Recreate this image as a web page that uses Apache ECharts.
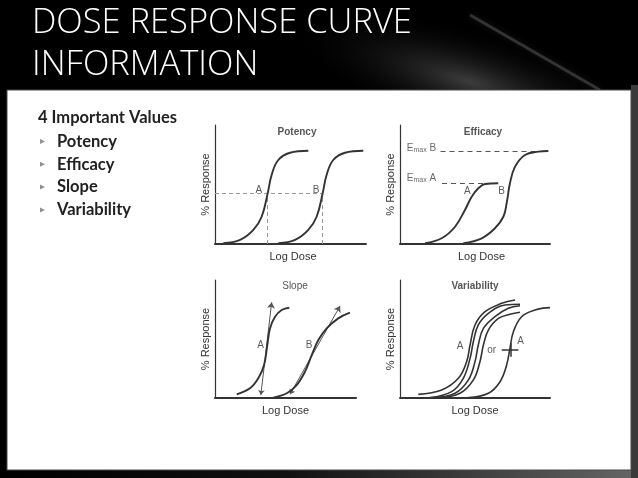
<!DOCTYPE html>
<html><head><meta charset="utf-8">
<script src="https://cdn.jsdelivr.net/npm/echarts@6/dist/echarts.min.js"></script>
<style>html,body{margin:0;padding:0;background:#000}#c{width:638px;height:478px}</style>
</head><body><div id="c"></div>
<script>
// ---- text ----
const slideTitle = 'DOSE RESPONSE CURVE\nINFORMATION';
const listHeading = '4 Important Values';
const listItems = ['Potency', 'Efficacy', 'Slope', 'Variability'];
const panelTitles = ['Potency', 'Efficacy', 'Slope', 'Variability'];
const yName = '% Response';
const xName = 'Log Dose';

// ---- Potency (x: log dose 0-10, y: % response 0-100) ----
const potencyA = [[0.55,0.6],[1.66,3.4],[2.54,11.8],[3.09,22.9],[3.49,42.6],[3.75,58],[4.19,70.6],[4.97,76.7],[6.18,78.4]];
const potencyB = [[4.19,0.6],[5.30,3.4],[6.18,11.8],[6.73,22.9],[7.13,42.6],[7.39,58],[7.83,70.6],[8.61,76.7],[9.82,78.4]];
const potencyGuides = [[[0,42.6],[7.13,42.6]], [[3.49,0],[3.49,42.6]], [[7.13,0],[7.13,42.6]]];
const potencyLabels = [['A',2.91,45.4],['B',6.69,45.4]];

// ---- Efficacy ----
const efficacyA = [[1.67,0.6],[2.78,4.8],[3.67,14.5],[4.33,28.6],[4.78,39.7],[5.22,46.8],[5.67,50.4],[6.55,51]];
const efficacyB = [[4.22,0.6],[5.45,4.8],[6.33,13.2],[6.89,22.9],[7.11,34.2],[7.33,51],[7.67,65],[8.33,74.8],[9.22,77.6],[9.89,78.2]];
const efficacyGuides = [[[2.7,78.2],[9.6,78.2]], [[2.8,51.3],[6.5,51.3]]];
const efficacyLabels = [['A',4.49,44],['B',6.78,44]];
const emaxLabels = [['B',0.45,80.7],['A',0.45,55.5]];

// ---- Slope ----
const slopeA = [[1.54,3.1],[2.48,8.2],[3.07,16.7],[3.48,28],[3.71,44.9],[3.9,59],[4.26,68.9],[4.73,74.6],[5.27,76.5]];
const slopeB = [[4.13,0.3],[5.09,4],[5.79,11],[6.38,22.3],[6.86,36.4],[7.33,49.2],[7.92,59],[8.74,67.5],[9.57,72.3]];
const slopeTangents = [[[3.25,2.5],[4.02,81.1]], [[5.32,3.1],[8.87,78]]];
const slopeLabels = [['A',3.24,44.9],['B',6.67,44.9]];

// ---- Variability ----
const var1 = [[1.22,3.1],[2.78,6.8],[3.89,16.7],[4.44,30.8],[4.67,44.9],[5.0,61.9],[5.67,73.2],[6.78,80.2],[7.67,83.1]];
const var2 = [[2.0,0.3],[3.44,5.4],[4.22,16.7],[4.67,33.6],[4.89,47.7],[5.22,61.9],[5.89,71.8],[7.0,78.8],[8.0,79.4]];
const var3 = [[2.22,0.3],[3.67,4],[4.56,15.3],[5.0,30.8],[5.22,44.9],[5.56,59],[6.33,68.9],[7.22,76],[8.0,78.2]];
const var4 = [[2.56,0.3],[4.0,4],[4.89,15.3],[5.33,30.8],[5.56,44.9],[5.89,57.6],[6.56,67.5],[7.33,70.9],[8.0,72.6]];
const var5 = [[4.56,0.3],[5.89,4],[6.67,13.8],[7.11,28],[7.33,42.1],[7.56,56.2],[8.11,68.9],[9.0,74.6],[10.0,76.6]];
const varMarks = [[[6.78,40.7],[7.89,40.7]], [[7.38,35],[7.38,46.3]]];
const varLabels = [['A',4.0,43.5],['or',6.11,40.7],['A',8.04,47.7]];

const grids = [
  {left:215, top:125, width:151, height:119},
  {left:400, top:125, width:150, height:119},
  {left:215, top:280, width:141, height:118},
  {left:400, top:280, width:150, height:118}
];
const titlePos = [[292,122],[478,122],[290,276],[470,276]];

const INK = '#333';
const FONT = '"Liberation Sans", Arial, sans-serif';

const xAxes = grids.map((g,i)=>({
  gridIndex:i, type:'value', min:0, max:10,
  axisLine:{show:true, lineStyle:{color:INK, width:2}},
  axisTick:{show:false}, axisLabel:{show:false}, splitLine:{show:false},
  name:xName, nameLocation:'middle', nameGap:7,
  nameTextStyle:{fontFamily:FONT, fontSize:11, color:'#333', padding:[0,0,0,i===1?13:(i===0?5:0)]}
}));
const yAxes = grids.map((g,i)=>({
  gridIndex:i, type:'value', min:0, max:100,
  axisLine:{show:true, lineStyle:{color:INK, width:1.2}},
  axisTick:{show:false}, axisLabel:{show:false}, splitLine:{show:false},
  name:yName, nameLocation:'middle', nameGap:4,
  nameTextStyle:{fontFamily:FONT, fontSize:11, color:'#333'}
}));

const series = [];
function curve(i, data, w){
  series.push({type:'line', xAxisIndex:i, yAxisIndex:i, data, smooth:0.4, symbol:'none',
    lineStyle:{color:INK, width:w||1.9}, silent:true, z:3});
}
function segs(i, list, opts){
  series.push(Object.assign({type:'lines', coordinateSystem:'cartesian2d', xAxisIndex:i, yAxisIndex:i,
    data:list.map(c=>({coords:c})), silent:true, z:3}, opts));
}
function labels(i, list){
  series.push({type:'scatter', xAxisIndex:i, yAxisIndex:i, symbolSize:0, silent:true, z:4,
    data:list.map(l=>({name:l[0], value:[l[1],l[2]]})),
    label:{show:true, position:'inside', formatter:'{b}', fontFamily:FONT, fontSize:10, color:'#333'}});
}

// Potency
segs(0, potencyGuides, {lineStyle:{color:'#999', width:1, type:[4,3], opacity:1}});
curve(0, potencyA); curve(0, potencyB); labels(0, potencyLabels);
// Efficacy
segs(1, efficacyGuides, {lineStyle:{color:'#555', width:1, type:[5,4], opacity:1}});
curve(1, efficacyA); curve(1, efficacyB); labels(1, efficacyLabels);
series.push({type:'scatter', xAxisIndex:1, yAxisIndex:1, symbolSize:0, silent:true, z:4,
  data:emaxLabels.map(l=>({name:l[0], value:[l[1],l[2]]})),
  label:{show:true, position:'inside', align:'left',
    formatter:p=>'{e|E}{s|max}{e| '+p.name+'}',
    rich:{e:{fontFamily:FONT, fontSize:10, color:'#444'}, s:{fontFamily:FONT, fontSize:7, color:'#444', padding:[4,0,0,0]}}}});
// Slope
curve(2, slopeA); curve(2, slopeB);
segs(2, slopeTangents, {symbol:['arrow','arrow'], symbolSize:[5,6], lineStyle:{color:'#555', width:1, opacity:1}});
labels(2, slopeLabels);
// Variability
[var1,var2,var3,var4].forEach(d=>curve(3, d, 1.6));
curve(3, var5, 1.6);
segs(3, varMarks, {lineStyle:{color:INK, width:1.5, opacity:1}});
labels(3, varLabels);

const titles = panelTitles.map((t,i)=>({text:t, left:titlePos[i][0], top:titlePos[i][1], textAlign:'center',
  textStyle:{fontFamily:FONT, fontSize:10, fontWeight:i===2?'normal':'bold', color:'#555'}}));

const LISTFONT = 'Lato, "Open Sans", sans-serif';
const bulletGraphics = listItems.map((t,i)=>{
  const y = 141.5 + i*22.8;
  return [
    {type:'polygon', shape:{points:[[40,y-2.5],[45,y],[40,y+2.5]]}, style:{fill:'#8a8f99'}, z:10},
    {type:'text', x:57, y:y, style:{text:t, fontFamily:LISTFONT, fontWeight:'bold', fontSize:16.5, fill:'#222', verticalAlign:'middle'}, z:10}
  ];
}).flat();

const chart = echarts.init(document.getElementById('c'), null, {renderer:'canvas'});
chart.setOption({
  backgroundColor:'#000',
  animation:false,
  title:titles,
  grid:grids,
  xAxis:xAxes,
  yAxis:yAxes,
  series,
  graphic:[
    // background glow
    {type:'circle', x:470, y:82, scaleX:1, scaleY:0.28, rotation:-0.28, shape:{cx:0, cy:0, r:190},
      style:{fill:{type:'radial', x:0.5, y:0.5, r:0.5, colorStops:[{offset:0,color:'rgba(110,110,110,0.55)'},{offset:1,color:'rgba(0,0,0,0)'}]}}, z:-20},
    {type:'line', shape:{x1:470, y1:15, x2:600, y2:90}, style:{stroke:'rgba(200,200,200,0.22)', lineWidth:3, shadowBlur:6, shadowColor:'rgba(255,255,255,0.5)'}, z:-19},
    {type:'rect', shape:{x:0, y:470, width:638, height:8},
      style:{fill:{type:'linear', x:0, y:0, x2:1, y2:0, colorStops:[{offset:0,color:'#000'},{offset:0.45,color:'#111'},{offset:1,color:'#666'}]}}, z:-18},
    {type:'rect', shape:{x:631, y:85, width:7, height:393}, style:{fill:'#3a3a3a'}, z:-18},
    // white panel
    {type:'rect', shape:{x:7, y:90, width:624, height:380}, style:{fill:'#fff', stroke:'#4a4a4a', lineWidth:1}, z:-10},
    // slide title
    {type:'text', x:32, y:2, style:{text:slideTitle, fontFamily:'"Open Sans", Lato, sans-serif', fontWeight:300, fontSize:34.5, lineHeight:42, fill:'#fff'}, z:10},
    {type:'text', x:38, y:117.5, style:{text:listHeading, fontFamily:LISTFONT, fontWeight:'bold', fontSize:16.5, fill:'#222', verticalAlign:'middle'}, z:10}
  ].concat(bulletGraphics)
});
</script></body></html>
